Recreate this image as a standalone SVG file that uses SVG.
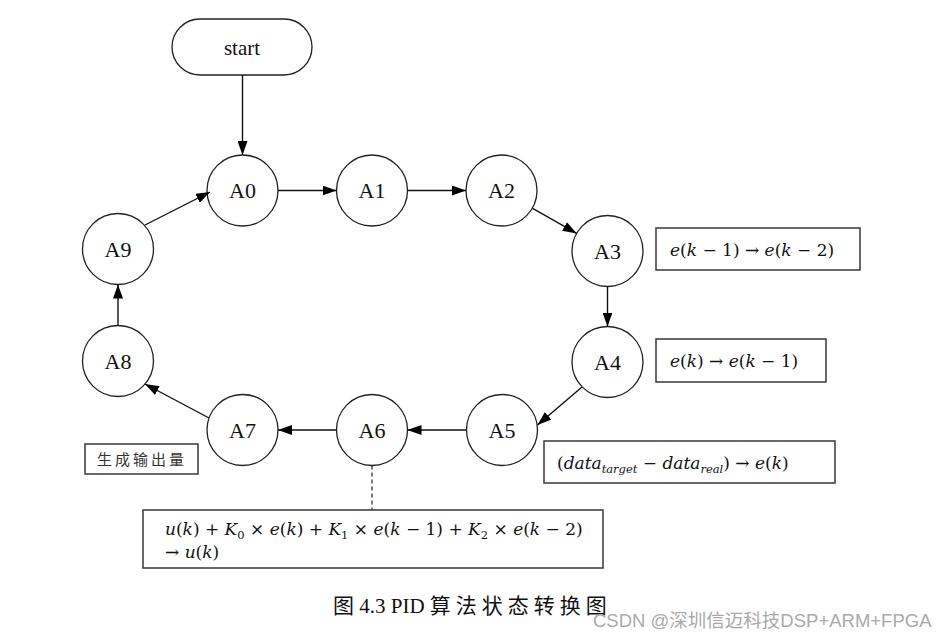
<svg xmlns="http://www.w3.org/2000/svg" width="945" height="638" viewBox="0 0 945 638">
<defs>
<marker id="ah" markerWidth="14" markerHeight="10" refX="14" refY="5" orient="auto" markerUnits="userSpaceOnUse">
<path d="M0,0 L14,5 L0,10 Z" fill="#000"/>
</marker>
<style>
.node{fill:#fff;stroke:#222;stroke-width:1.3}
.lbl{font-size:22px;fill:#111;text-anchor:middle;dominant-baseline:central}
.edge{stroke:#111;stroke-width:1.4;fill:none;marker-end:url(#ah)}
.box{fill:#fff;stroke:#444;stroke-width:1.6}
.m{font-size:17px;fill:#111}
.i{font-style:italic}
.sub{font-size:11.5px}
.cn{font-size:15px;fill:#333;letter-spacing:3px}
</style>
</defs>
<rect width="945" height="638" fill="#fff"/>
<g id="start">
<rect x="172" y="19" width="140" height="56" rx="28" ry="28" class="node"/>
<text x="242" y="48" class="lbl" font-family="Liberation Serif, serif" style="font-size:21px">start</text>
</g>
<g id="A0"><circle cx="242.5" cy="190.5" r="35.5" class="node"/><text x="242.5" y="190.5" class="lbl" font-family="Liberation Serif, serif">A0</text></g>
<g id="A1"><circle cx="372" cy="190.5" r="35.5" class="node"/><text x="372" y="190.5" class="lbl" font-family="Liberation Serif, serif">A1</text></g>
<g id="A2"><circle cx="501.5" cy="190.5" r="35.5" class="node"/><text x="501.5" y="190.5" class="lbl" font-family="Liberation Serif, serif">A2</text></g>
<g id="A3"><circle cx="607.5" cy="251" r="35.5" class="node"/><text x="607.5" y="251" class="lbl" font-family="Liberation Serif, serif">A3</text></g>
<g id="A4"><circle cx="607.5" cy="362" r="35.5" class="node"/><text x="607.5" y="362" class="lbl" font-family="Liberation Serif, serif">A4</text></g>
<g id="A5"><circle cx="502" cy="430" r="35.5" class="node"/><text x="502" y="430" class="lbl" font-family="Liberation Serif, serif">A5</text></g>
<g id="A6"><circle cx="372" cy="430" r="35.5" class="node"/><text x="372" y="430" class="lbl" font-family="Liberation Serif, serif">A6</text></g>
<g id="A7"><circle cx="242.5" cy="430" r="35.5" class="node"/><text x="242.5" y="430" class="lbl" font-family="Liberation Serif, serif">A7</text></g>
<g id="A8"><circle cx="118" cy="361" r="35.5" class="node"/><text x="118" y="361" class="lbl" font-family="Liberation Serif, serif">A8</text></g>
<g id="A9"><circle cx="118" cy="249" r="35.5" class="node"/><text x="118" y="249" class="lbl" font-family="Liberation Serif, serif">A9</text></g>
<g id="connectors">
<line x1="242.5" y1="75" x2="242.5" y2="155" class="edge"/>
<line x1="278" y1="190.5" x2="336.5" y2="190.5" class="edge"/>
<line x1="407.5" y1="190.5" x2="466" y2="190.5" class="edge"/>
<line x1="532.6" y1="208.3" x2="576.7" y2="233.4" class="edge"/>
<line x1="607.5" y1="286.5" x2="607.5" y2="326.5" class="edge"/>
<line x1="582" y1="387" x2="537.5" y2="425" class="edge"/>
<line x1="466.5" y1="430" x2="407.5" y2="430" class="edge"/>
<line x1="336.5" y1="430" x2="278" y2="430" class="edge"/>
<line x1="209" y1="418" x2="145" y2="384" class="edge"/>
<line x1="118" y1="325.5" x2="118" y2="284.5" class="edge"/>
<line x1="145" y1="225" x2="210" y2="192" class="edge"/>
<line x1="372" y1="465.5" x2="372" y2="510" stroke="#222" stroke-width="1.2" stroke-dasharray="4,3"/>
</g>
<g id="note-A3">
<rect x="656" y="228" width="204" height="42" class="box"/>
<text x="670" y="256" class="m" font-family="DejaVu Serif, serif"><tspan class="i">e</tspan>(<tspan class="i">k</tspan> − 1) → <tspan class="i">e</tspan>(<tspan class="i">k</tspan> − 2)</text>
</g>
<g id="note-A4">
<rect x="656" y="339" width="170" height="43" class="box"/>
<text x="670" y="367" class="m" font-family="DejaVu Serif, serif"><tspan class="i">e</tspan>(<tspan class="i">k</tspan>) → <tspan class="i">e</tspan>(<tspan class="i">k</tspan> − 1)</text>
</g>
<g id="note-A5">
<rect x="544" y="441" width="291" height="42" class="box"/>
<text x="557" y="469" class="m" font-family="DejaVu Serif, serif">(<tspan class="i">data</tspan><tspan class="i sub" dy="4">target</tspan><tspan dy="-4"> − </tspan><tspan class="i">data</tspan><tspan class="i sub" dy="4">real</tspan><tspan dy="-4">) → </tspan><tspan class="i">e</tspan>(<tspan class="i">k</tspan>)</text>
</g>
<g id="note-A6">
<rect x="143" y="510" width="460" height="58" class="box"/>
<text x="165" y="535" class="m" font-family="DejaVu Serif, serif"><tspan class="i">u</tspan>(<tspan class="i">k</tspan>) + <tspan class="i">K</tspan><tspan class="sub" dy="4">0</tspan><tspan dy="-4"> × </tspan><tspan class="i">e</tspan>(<tspan class="i">k</tspan>) + <tspan class="i">K</tspan><tspan class="sub" dy="4">1</tspan><tspan dy="-4"> × </tspan><tspan class="i">e</tspan>(<tspan class="i">k</tspan> − 1) + <tspan class="i">K</tspan><tspan class="sub" dy="4">2</tspan><tspan dy="-4"> × </tspan><tspan class="i">e</tspan>(<tspan class="i">k</tspan> − 2)</text>
<text x="165" y="558" class="m" font-family="DejaVu Serif, serif">→ <tspan class="i">u</tspan>(<tspan class="i">k</tspan>)</text>
</g>
<g id="note-A7">
<rect x="85" y="444" width="113" height="30" class="box"/>
<text x="97" y="465" class="cn" font-family="Noto Sans CJK SC, sans-serif">生成输出量</text>
</g>
<text x="333" y="613" font-family="Liberation Serif, Noto Sans CJK SC, serif" font-size="21" fill="#111">图 4.3 PID <tspan letter-spacing="5">算法状态转换图</tspan></text>
<text x="593" y="627" font-family="Liberation Sans, Noto Sans CJK SC, sans-serif" font-size="18.5" fill="#aaa">CSDN @深圳信迈科技DSP+ARM+FPGA</text>
</svg>
